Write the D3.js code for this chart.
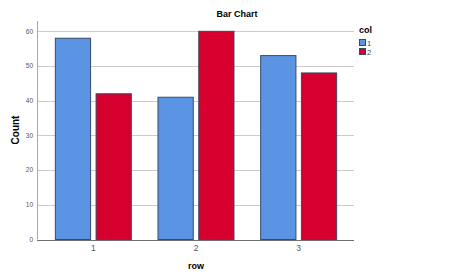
<!DOCTYPE html>
<html>
<head>
<meta charset="utf-8">
<script src="https://cdn.jsdelivr.net/npm/d3@7"></script>
<style>
  body { margin: 0; background: #fff; }
  svg { font-family: "Liberation Sans", Arial, sans-serif; }
</style>
</head>
<body>
<div id="chart"></div>
<script>
// data
const rows = ["1", "2", "3"];
const cols = ["1", "2"];
const col1Counts = [58, 41, 53];
const col2Counts = [42, 60, 48];
const yTicks = [0, 10, 20, 30, 40, 50, 60];

const colors = {"1": "#5a94e2", "2": "#d6002e"};

const width = 474, height = 279;
const plot = {left: 37, right: 354, top: 21, bottom: 239.5};

let svg = d3.select("#chart").append("svg")
    .attr("width", width)
    .attr("height", height);

let data = rows.map((r, i) => ({row: r, values: [
    {col: "1", count: col1Counts[i]},
    {col: "2", count: col2Counts[i]}
]}));

let y = d3.scaleLinear().domain([0, 60]).range([plot.bottom, 31.3]);

let x = d3.scaleBand().domain(rows)
    .range([42, 350])
    .paddingInner(0.25)
    .paddingOuter(0.125);

let xInner = d3.scaleBand().domain(cols)
    .range([0, x.bandwidth()])
    .paddingInner(0.11);

// gridlines
svg.append("g")
    .selectAll("line")
    .data(yTicks.filter(d => d > 0))
    .enter()
    .append("line")
    .attr("x1", plot.left)
    .attr("x2", plot.right)
    .attr("y1", d => Math.round(y(d)) + 0.5)
    .attr("y2", d => Math.round(y(d)) + 0.5)
    .attr("stroke", "#cccccc")
    .attr("stroke-width", 1);

// y axis line
svg.append("line")
    .attr("x1", plot.left + 0.5).attr("x2", plot.left + 0.5)
    .attr("y1", plot.top).attr("y2", plot.bottom)
    .attr("stroke", "#a8a8a8");

// y tick labels
svg.append("g")
    .selectAll("text")
    .data(yTicks)
    .enter()
    .append("text")
    .attr("x", plot.left - 4)
    .attr("y", d => y(d))
    .attr("dy", "0.35em")
    .attr("text-anchor", "end")
    .attr("font-size", 6.5)
    .attr("fill", "#555")
    .text(d => d);

// bars
let groups = svg.append("g")
    .selectAll("g")
    .data(data)
    .enter()
    .append("g")
    .attr("transform", d => `translate(${x(d.row)},0)`);

groups.selectAll("rect")
    .data(d => d.values)
    .enter()
    .append("rect")
    .attr("x", d => xInner(d.col) + 0.5)
    .attr("y", d => y(d.count))
    .attr("width", xInner.bandwidth() - 1)
    .attr("height", d => plot.bottom - y(d.count))
    .attr("fill", d => colors[d.col])
    .attr("stroke", "#3b4a64")
    .attr("stroke-width", 1);

// x axis line
svg.append("line")
    .attr("x1", plot.left).attr("x2", plot.right)
    .attr("y1", Math.round(plot.bottom) + 0.5).attr("y2", Math.round(plot.bottom) + 0.5)
    .attr("stroke", "#6f6f6f");

// x tick labels
svg.append("g")
    .selectAll("text")
    .data(rows)
    .enter()
    .append("text")
    .attr("x", d => x(d) + x.bandwidth() / 2)
    .attr("y", 251)
    .attr("text-anchor", "middle")
    .attr("font-size", 8.5)
    .attr("fill", "#555")
    .text(d => d);

// titles
svg.append("text")
    .attr("x", 237).attr("y", 16.5)
    .attr("text-anchor", "middle")
    .attr("font-size", 9)
    .attr("font-weight", "bold")
    .text("Bar Chart");

svg.append("text")
    .attr("x", 196).attr("y", 269)
    .attr("text-anchor", "middle")
    .attr("font-size", 9)
    .attr("font-weight", "bold")
    .text("row");

svg.append("text")
    .attr("transform", "translate(18.5,130) rotate(-90)")
    .attr("text-anchor", "middle")
    .attr("font-size", 10)
    .attr("font-weight", "bold")
    .text("Count");

// legend
let legend = svg.append("g").attr("transform", "translate(359,0)");
legend.append("text")
    .attr("x", 0).attr("y", 32.5)
    .attr("font-size", 9)
    .attr("font-weight", "bold")
    .text("col");

let item = legend.selectAll(".item")
    .data(cols)
    .enter()
    .append("g")
    .attr("class", "item")
    .attr("transform", (d, i) => `translate(0,${39 + i * 9})`);

item.append("rect")
    .attr("x", 0.5).attr("y", 0.5)
    .attr("width", 6).attr("height", 6)
    .attr("fill", d => colors[d])
    .attr("stroke", "#3b4a64");

item.append("text")
    .attr("x", 8).attr("y", 6.5)
    .attr("font-size", 7.5)
    .attr("fill", "#444")
    .text(d => d);
</script>
</body>
</html>
